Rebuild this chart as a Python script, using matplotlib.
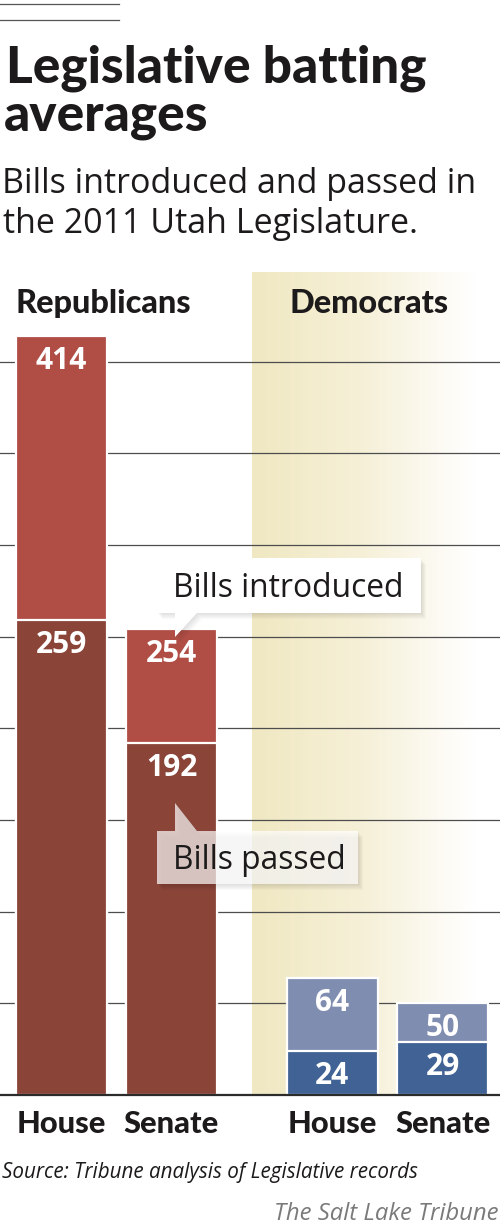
import matplotlib
matplotlib.use("Agg")
import matplotlib.pyplot as plt
import numpy as np
from matplotlib.patches import Polygon
from matplotlib.colors import LinearSegmentedColormap

# ---------------- data ----------------
parties = ["Republicans", "Democrats"]
chambers = ["House", "Senate", "House", "Senate"]
introduced = [414, 254, 64, 50]
passed = [259, 192, 24, 29]
grid_values = [50, 100, 150, 200, 250, 300, 350, 400]

# ---------------- layout / style ----------------
W, H = 500, 1227
fig = plt.figure(figsize=(W / 100, H / 100), dpi=100)
renderer = fig.canvas.get_renderer()

px_per_unit = 759 / 414.0
base_px = 1095
top_px = 272
ax = fig.add_axes([0, (H - base_px) / H, 1, (base_px - top_px) / H])
ymax = (base_px - top_px) / px_per_unit
positions = [61.5, 171.5, 332, 442.5]
bar_w = 91

intro_colors = ["#B04E46", "#B04E46", "#7F8DB1", "#7F8DB1"]
passed_colors = ["#8A4438", "#8A4438", "#416294", "#416294"]

# gradient panel behind Democrats
cmap = LinearSegmentedColormap.from_list(
    "g", [(0, "#F0E8C2"), (0.45, "#F6F0D8"), (0.9, "#FFFFFF"), (1, "#FFFFFF")])
ax.imshow(np.linspace(0, 1, 256).reshape(1, -1), extent=[252, 500, 0, ymax],
          aspect="auto", cmap=cmap, zorder=0)

for g in grid_values:
    ax.axhline(g, color="#4d4d4d", lw=0.9, zorder=1)

ax.bar(positions, introduced, width=bar_w, color=intro_colors,
       edgecolor="white", linewidth=1.6, zorder=2)
ax.bar(positions, passed, width=bar_w, color=passed_colors,
       edgecolor="white", linewidth=1.6, zorder=3)
ax.axhline(0, color="#2b2b2b", lw=1.6, zorder=5, clip_on=False)

ax.set_xlim(0, 500)
ax.set_ylim(0, ymax)
ax.axis("off")

num_family = ["Open Sans", "DejaVu Sans"]
for x, v in zip(positions, introduced):
    ax.annotate(str(v), (x, v), xytext=(0, -23.8), textcoords="offset points",
                ha="center", va="baseline", color="white", fontsize=21.5,
                fontweight="bold", family=num_family, zorder=6)
for x, v in zip(positions, passed):
    ax.annotate(str(v), (x, v), xytext=(0, -23.8), textcoords="offset points",
                ha="center", va="baseline", color="white", fontsize=21.5,
                fontweight="bold", family=num_family, zorder=6)

# ---------------- overlay (pixel coords) ----------------
ov = fig.add_axes([0, 0, 1, 1], zorder=10)
ov.set_xlim(0, W)
ov.set_ylim(H, 0)
ov.axis("off")


def fit_size(s, width, **kw):
    t = ov.text(0, 0, s, fontsize=20, **kw)
    bb = t.get_window_extent(renderer)
    t.remove()
    return 20 * width / bb.width


def put(x, y, s, size, **kw):
    return ov.text(x, y, s, fontsize=size, va="baseline", **kw)


title_kw = dict(family=["Lato", "Open Sans", "DejaVu Sans"], fontweight="black", color="#1c1a1a")
ts = fit_size("Legislative batting", 420, **title_kw)
put(6, 82, "Legislative batting", ts, **title_kw)
put(4, 130, "averages", ts, **title_kw)

sub_kw = dict(family=["Open Sans", "Lato", "DejaVu Sans"], color="#1c1a1a")
ss = fit_size("Bills introduced and passed in", 474, **sub_kw)
put(2, 193, "Bills introduced and passed in", ss, **sub_kw)
put(3, 233, "the 2011 Utah Legislature.", ss, **sub_kw)

hdr_kw = dict(family=["Lato", "Open Sans", "DejaVu Sans"], fontweight="black", color="#1c1a1a")
hs = fit_size(parties[0], 176, **hdr_kw)
put(16, 313, parties[0], hs, **hdr_kw)
put(290, 313, parties[1], hs, **hdr_kw)

# x labels
xs = fit_size("Senate", 95, **hdr_kw)
for x, c in zip(positions, chambers):
    ov.text(x, 1133, c, fontsize=xs, ha="center", va="baseline", **hdr_kw)

# top rules
ov.plot([0, 119], [4, 4], color="#555555", lw=0.9)
ov.plot([0, 119], [20, 20], color="#555555", lw=0.9)

# callouts
def callout(pts, alpha):
    pts = np.array(pts, dtype=float)
    for i in range(1, 6):
        ov.add_patch(Polygon(pts + [1.0 * i, 1.2 * i], closed=True, fc="black",
                             ec="none", alpha=0.025, zorder=1))
    ov.add_patch(Polygon(pts, closed=True, fc="white", ec="none", alpha=alpha, zorder=2))

callout([(157, 558), (421, 558), (421, 613), (197, 613), (175, 637),
         (175, 613), (157, 613)], 1.0)
callout([(157, 831), (175, 831), (175, 803), (197, 831), (358, 831),
         (358, 884), (157, 884)], 0.7)

cs = fit_size("Bills introduced", 230, **sub_kw)
ov.text(173, 597, "Bills introduced", fontsize=cs, va="baseline", zorder=3, **sub_kw)
ov.text(173, 869, "Bills passed", fontsize=cs, va="baseline", zorder=3, **sub_kw)

src_kw = dict(family=["Open Sans", "Lato", "DejaVu Sans"], style="italic", color="#1c1a1a")
srs = fit_size("Source: Tribune analysis of Legislative records", 416, **src_kw)
put(2, 1178, "Source: Tribune analysis of Legislative records", srs, **src_kw)

brand_kw = dict(family=["Open Sans", "Lato", "DejaVu Sans"], style="italic", color="#7a7a7a")
bs = fit_size("The Salt Lake Tribune", 225, **brand_kw)
ov.text(498, 1220, "The Salt Lake Tribune", fontsize=bs, ha="right", va="baseline", **brand_kw)

fig.savefig("out.png", dpi=100)
